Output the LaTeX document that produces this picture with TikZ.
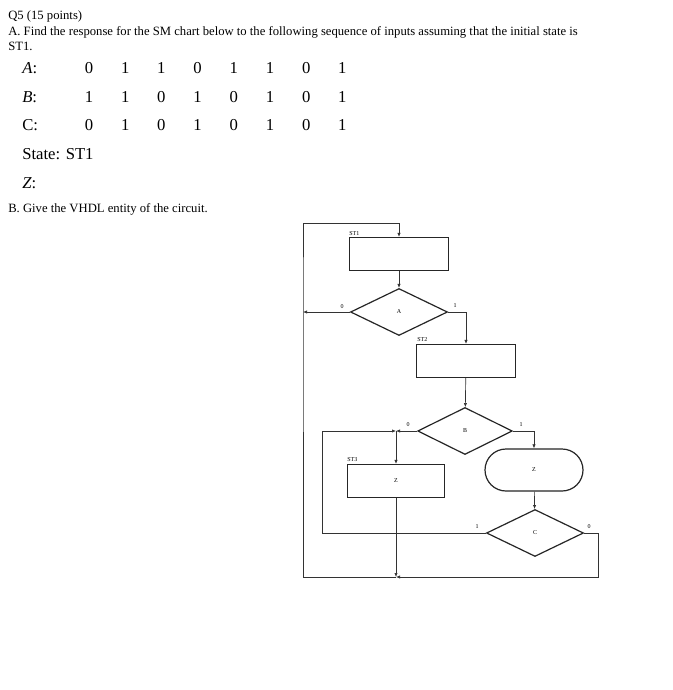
\documentclass[tikz,border=0pt]{standalone}
\usepackage{fontspec}
\setmainfont{Liberation Serif}
\usetikzlibrary{shapes.geometric,shapes.misc,arrows.meta}
\begin{document}
\begin{tikzpicture}[x=0.75pt,y=-0.75pt,
  ln/.style={draw=black!80,line width=0.5pt},
  ar/.style={ln,-{Latex[length=3pt,width=2.5pt]}},
  box/.style={draw=black!85,line width=0.9pt,minimum width=74.25pt,minimum height=24.75pt,inner sep=0pt,font=\fontsize{4.5}{5}\selectfont},
  dia/.style={draw=black!85,line width=0.9pt,diamond,aspect=2.05,minimum width=72.75pt,minimum height=35.25pt,inner sep=0pt,font=\fontsize{4.5}{5}\selectfont},
  tl/.style={font=\fontsize{4.5}{5}\selectfont,inner sep=0pt},
  q/.style={anchor=base west,inner sep=0pt,font=\fontsize{9.5}{11}\selectfont},
  tb/.style={anchor=base,inner sep=0pt,font=\fontsize{12.5}{14}\selectfont}]
\useasboundingbox (0,0) rectangle (673,690);
\fill[white] (0,0) rectangle (673,690);
\node[q] (t1) at (8,19) {Q5 (15 points)};
\node[q] (t2) at (8,35) {A. Find the response for the SM chart below to the following sequence of inputs assuming that the initial state is};
\node[q] (t3) at (8,50) {ST1.};
\node[q] (t4) at (8,212) {B. Give the VHDL entity of the circuit.};
\node[tb,anchor=base west] (la) at (22,73) {\textit{A}:};
\node[tb,anchor=base west] (lb) at (22,102) {\textit{B}:};
\node[tb,anchor=base west] (lc) at (22,130) {C:};
\node[tb,anchor=base west] (ls) at (22,159) {State: ST1};
\node[tb,anchor=base west] (lz) at (22,188) {\textit{Z}:};
\foreach \a/\b/\c [count=\i] in {0/1/0,1/1/1,1/0/0,0/1/1,1/0/0,1/1/1,0/0/0,1/1/1}{
  \pgfmathsetmacro\xx{89+36.2*(\i-1)}
  \node[tb] (ra\i) at (\xx,73) {\a};
  \node[tb] (rb\i) at (\xx,102) {\b};
  \node[tb] (rc\i) at (\xx,130) {\c};
}
% chart
\node[box] (st1) at (399,254) {};
\node[tl,anchor=south west] (st1l) at (349,236) {ST1};
\node[dia] (da) at (399,312) {A};
\node[box] (st2) at (466,361) {};
\node[tl,anchor=south west] (st2l) at (417,342) {ST2};
\node[dia,minimum width=71pt] (db) at (465,431) {B};
\node[box,minimum width=72.75pt] (st3) at (396,481) {Z};
\node[tl,anchor=south west] (st3l) at (347,462) {ST3};
\node[draw=black!85,line width=0.9pt,rounded rectangle,minimum width=73.5pt,minimum height=31.5pt,inner sep=0pt,font=\fontsize{4.5}{5}\selectfont] (oz) at (534,470) {Z};
\node[dia] (dc) at (535,533) {C};
\coordinate (tl) at (303,223);
\coordinate (bl) at (303,577);
\coordinate (br) at (598,577);
\coordinate (j3) at (396,431);
\coordinate (lb2) at (322,431);
\coordinate (lc2) at (322,533);
\draw[ar] (st1) -- (da);
\draw[ar] (bl) -- (303,290) -- (tl) -| (st1.north);
\draw[ar] (da.west) -- (303,312);
\draw[ar] (da.east) -| (st2.north);
\draw[ar] (st2) -- (db);
\draw[ar] (db.west) -- (j3);
\draw[ar] (lc2) -- (lb2) -- (j3);
\draw[ln] (dc.west) -- (lc2);
\draw[ar] (j3) -- (st3.north);
\draw[ar] (db.east) -| (oz.north);
\draw[ar] (oz) -- (dc);
\draw[ar] (st3) -- (396,577);
\draw[ar] (dc.east) -| (br) -- (396,577);
\draw[ln] (bl) -- (396,577);
\node[tl] (a0) at (342,307) {0};
\node[tl] (a1) at (455,306) {1};
\node[tl] (b0) at (408,425) {0};
\node[tl] (b1) at (521,425) {1};
\node[tl] (c1) at (477,527) {1};
\node[tl] (c0) at (589,527) {0};
\end{tikzpicture}
\end{document}
